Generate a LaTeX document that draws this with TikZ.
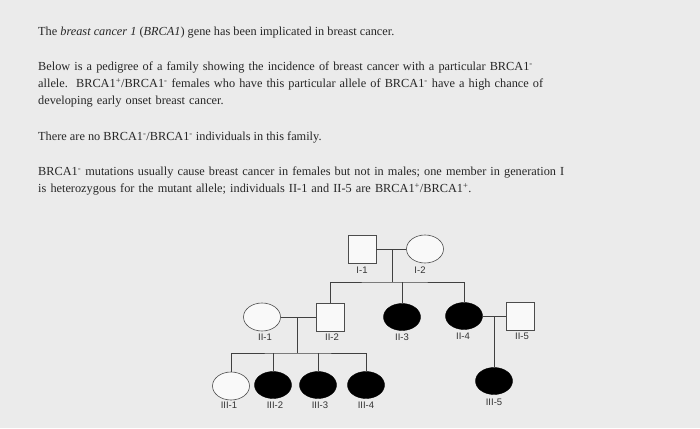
\documentclass[tikz,border=0pt]{standalone}
\usepackage{fontspec}
\usetikzlibrary{shapes.geometric}
\setmainfont{Liberation Serif}
\setsansfont{Liberation Sans}
\begin{document}
\begin{tikzpicture}[x=1pt,y=-1pt,
  lbl/.style={font=\sffamily\fontsize{9.5}{10}\selectfont,text=black!80,inner sep=0pt},
  male/.style={draw=black!70,line width=0.6pt,minimum size=28pt,inner sep=0pt,fill=white!95!gray},
  fem/.style={draw=black!70,line width=0.6pt,ellipse,minimum width=37pt,minimum height=28pt,inner sep=0pt,fill=white!95!gray},
  aff/.style={draw=black,ellipse,fill=black,minimum width=37pt,minimum height=27pt,inner sep=0pt},
  ln/.style={draw=black!75,line width=0.8pt},
  txt/.style={anchor=north west,inner sep=0pt,align=left,text=black!85,font=\fontsize{12.3}{17}\selectfont}]
\useasboundingbox[fill=black!8] (0,0) rectangle (700,428);
\node[txt] (t1) at (38,27) {The \textit{breast cancer 1} (\textit{BRCA1}) gene has been implicated in breast cancer.};
\node[txt,text width=660pt] (t2) at (38,62) {Below is a pedigree of a family showing the incidence of breast cancer with a particular BRCA1\textsuperscript{-}\\allele.\ \ BRCA1\textsuperscript{+}/BRCA1\textsuperscript{-} females who have this particular allele of BRCA1\textsuperscript{-} have a high chance of\\developing early onset breast cancer.};
\node[txt] (t3) at (38,132) {There are no BRCA1\textsuperscript{-}/BRCA1\textsuperscript{-} individuals in this family.};
\node[txt,text width=660pt] (t4) at (38,167) {BRCA1\textsuperscript{-} mutations usually cause breast cancer in females but not in males; one member in generation I\\is heterozygous for the mutant allele; individuals II-1 and II-5 are BRCA1\textsuperscript{+}/BRCA1\textsuperscript{+}.};
% generation I
\node[male] (i1) at (362,249) {};
\node[fem] (i2) at (425,249) {};
\node[lbl] (li1) at (362,270) {I-1};
\node[lbl] (li2) at (420,270) {I-2};
% generation II
\node[fem] (ii1) at (262,317) {};
\node[male] (ii2) at (330,317) {};
\node[aff] (ii3) at (402,317) {};
\node[aff] (ii4) at (464,316) {};
\node[male] (ii5) at (520,316) {};
\node[lbl] at (265,337) {II-1};
\node[lbl] at (332,337) {II-2};
\node[lbl] at (402,337) {II-3};
\node[lbl] at (463,336) {II-4};
\node[lbl] at (522,336) {II-5};
% generation III
\node[fem] (iii1) at (231,386) {};
\node[aff] (iii2) at (273,385) {};
\node[aff] (iii3) at (318,385) {};
\node[aff] (iii4) at (366,385) {};
\node[aff] (iii5) at (494,381) {};
\node[lbl] at (229,405) {III-1};
\node[lbl] at (275,405) {III-2};
\node[lbl] at (320,405) {III-3};
\node[lbl] at (366,405) {III-4};
\node[lbl] at (494,402) {III-5};
% connectors
\coordinate (m1) at (392,249);
\coordinate (s1) at (392,282);
\draw[ln] (i1.east) -- (i2.west);
\draw[ln] (m1) -- (s1);
\draw[ln] (ii2.north) |- (s1) -| (ii4.north);
\draw[ln] (ii3.north) -- (ii3.north |- s1);
\coordinate (m2) at (297,317);
\coordinate (s2) at (297,353);
\draw[ln] (ii1.east) -- (ii2.west);
\draw[ln] (m2) -- (s2);
\draw[ln] (iii1.north) |- (s2) -| (iii4.north);
\draw[ln] (iii2.north) -- (iii2.north |- s2);
\draw[ln] (iii3.north) -- (iii3.north |- s2);
\coordinate (m3) at (494,316);
\draw[ln] (ii4.east) -- (ii5.west);
\draw[ln] (m3) -- (iii5.north);
\end{tikzpicture}
\end{document}
